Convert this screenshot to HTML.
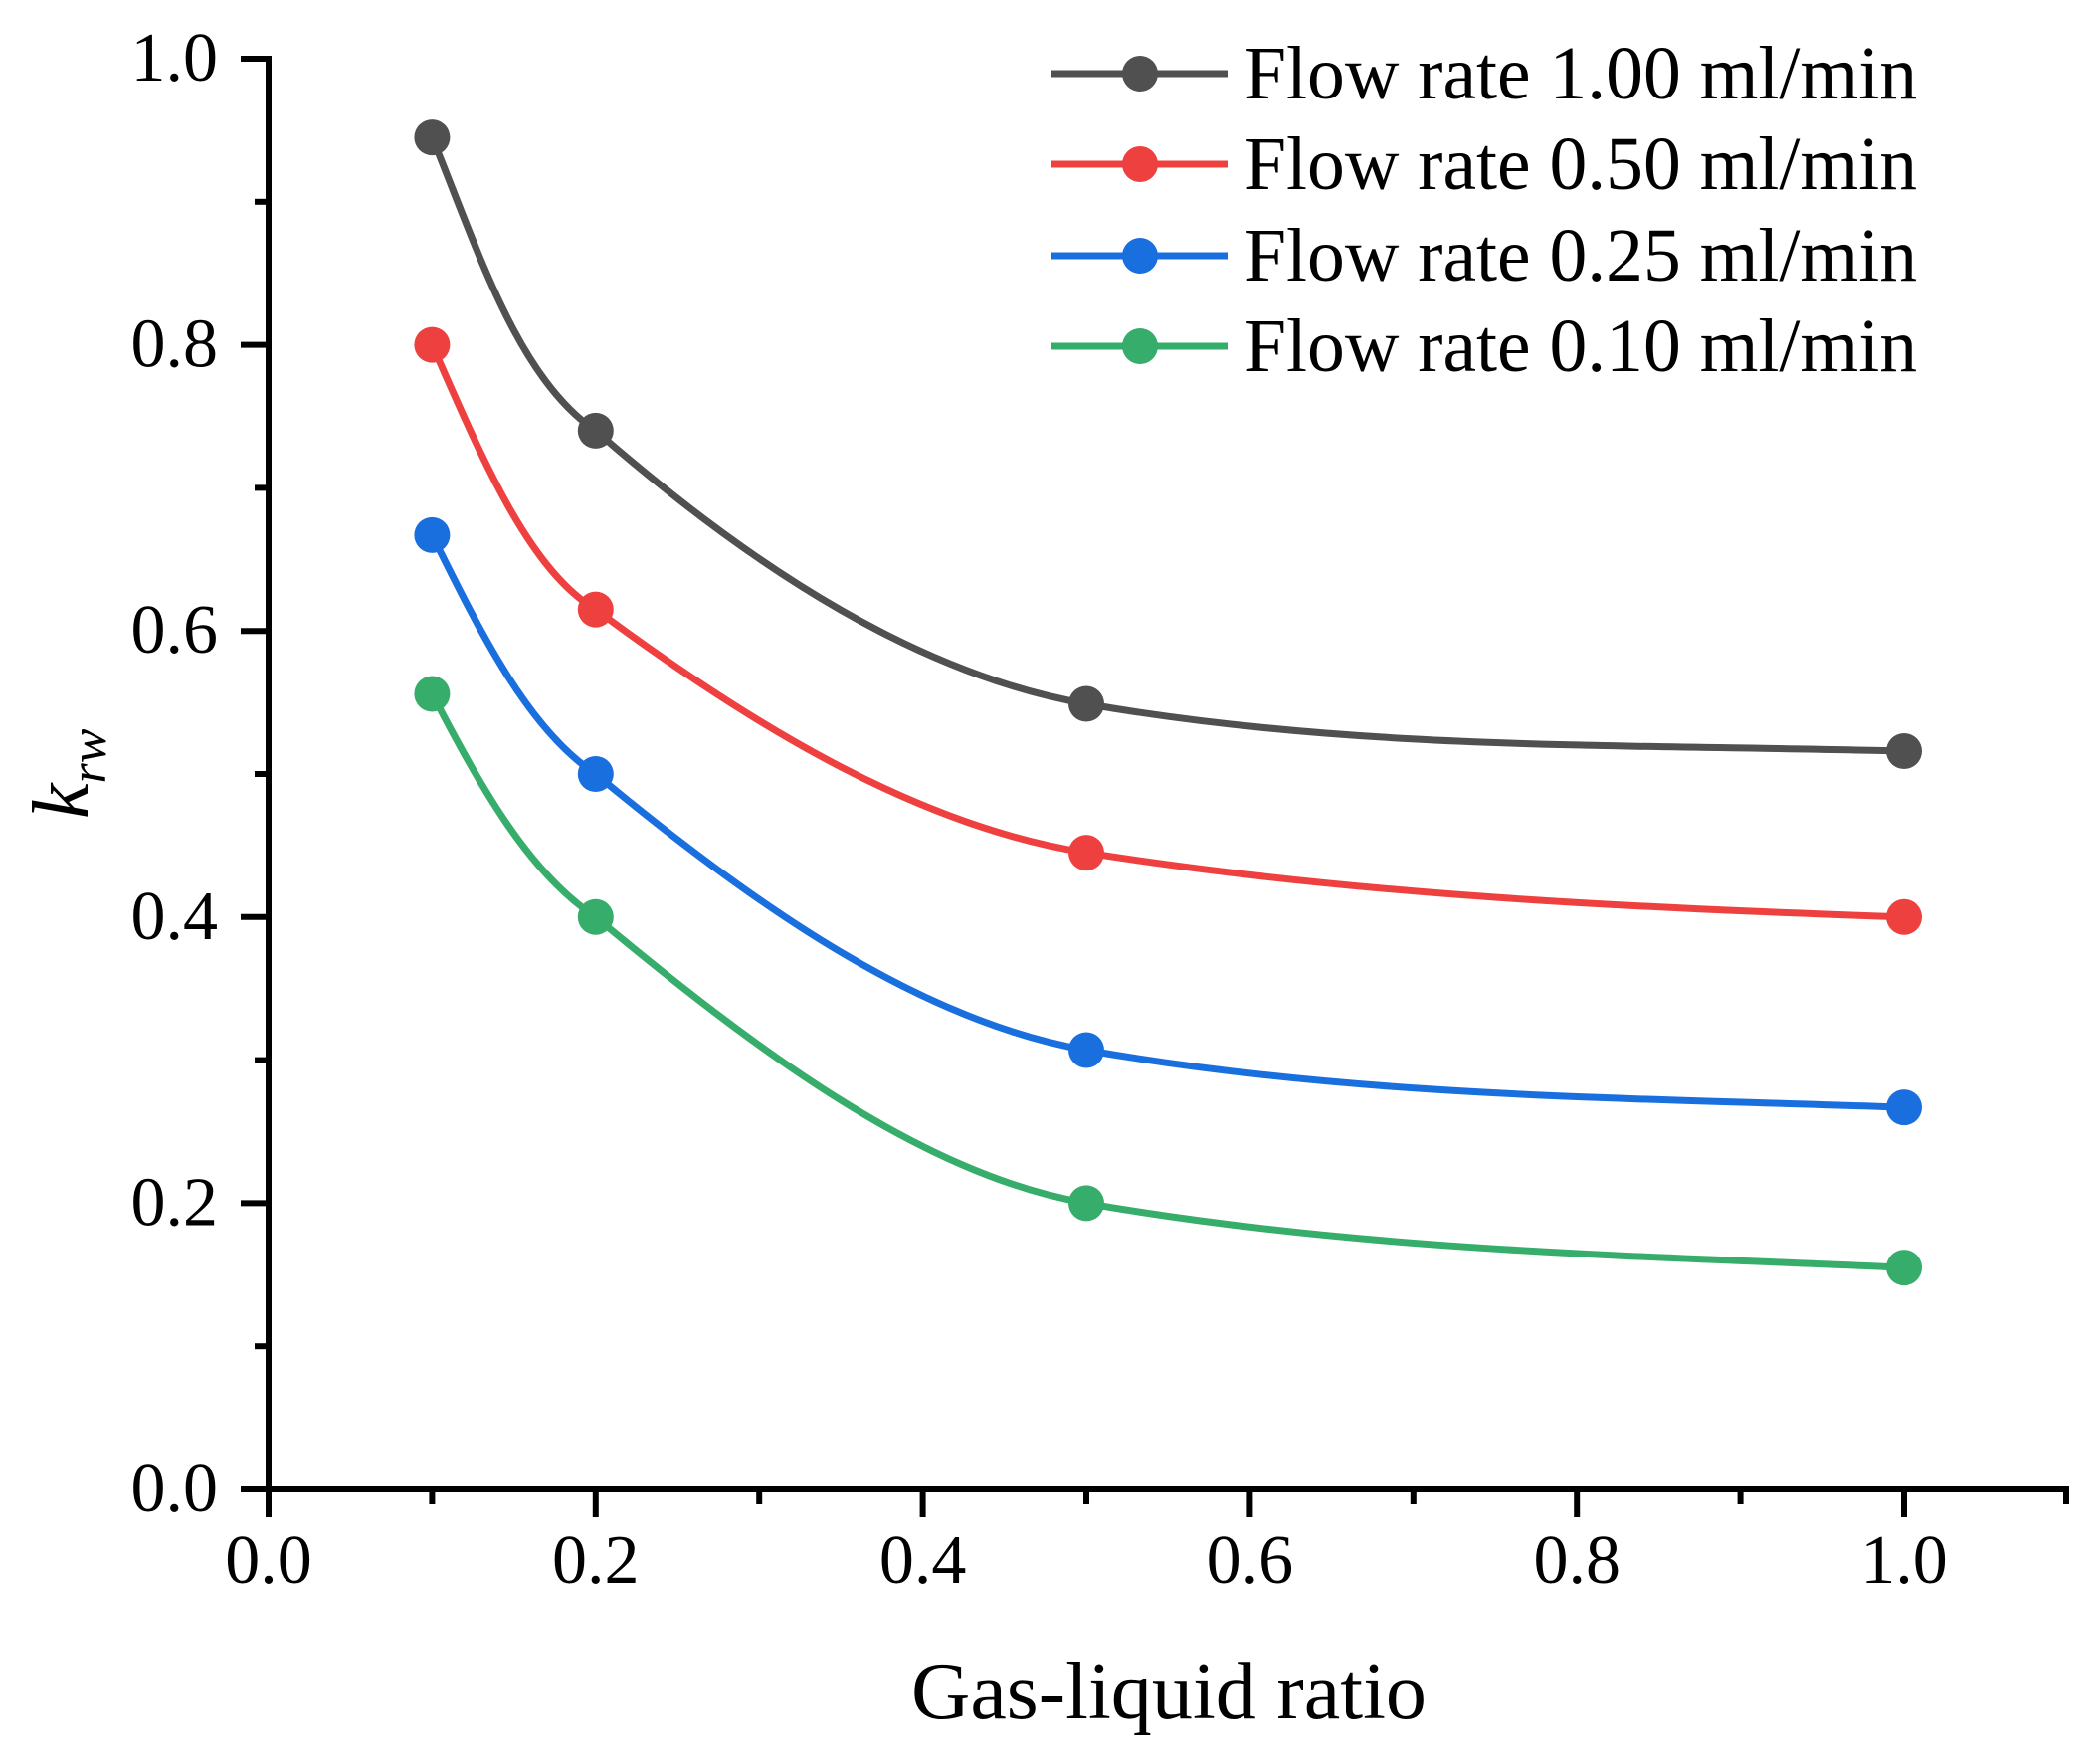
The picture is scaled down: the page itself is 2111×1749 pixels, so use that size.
<!DOCTYPE html>
<html><head><meta charset="utf-8"><style>
html,body{margin:0;padding:0;background:#fff;}
svg{display:block;}
text{font-family:"Liberation Serif","Times New Roman",serif;fill:#000;}
</style></head><body>
<svg width="2111" height="1749" viewBox="0 0 2111 1749" xmlns="http://www.w3.org/2000/svg">
<rect width="2111" height="1749" fill="#fff"/>
<g stroke="#000" stroke-width="6" fill="none">
<line x1="270" y1="56" x2="270" y2="1500"/>
<line x1="242" y1="1497" x2="2080" y2="1497"/>
<line x1="242" y1="1497" x2="270" y2="1497"/>
<line x1="242" y1="1209.4" x2="270" y2="1209.4"/>
<line x1="242" y1="921.8" x2="270" y2="921.8"/>
<line x1="242" y1="634.2" x2="270" y2="634.2"/>
<line x1="242" y1="346.6" x2="270" y2="346.6"/>
<line x1="242" y1="59" x2="270" y2="59"/>
<line x1="256" y1="1353.2" x2="270" y2="1353.2"/>
<line x1="256" y1="1065.6" x2="270" y2="1065.6"/>
<line x1="256" y1="778" x2="270" y2="778"/>
<line x1="256" y1="490.4" x2="270" y2="490.4"/>
<line x1="256" y1="202.8" x2="270" y2="202.8"/>
<line x1="270" y1="1497" x2="270" y2="1525"/>
<line x1="598.8" y1="1497" x2="598.8" y2="1525"/>
<line x1="927.6" y1="1497" x2="927.6" y2="1525"/>
<line x1="1256.4" y1="1497" x2="1256.4" y2="1525"/>
<line x1="1585.2" y1="1497" x2="1585.2" y2="1525"/>
<line x1="1914" y1="1497" x2="1914" y2="1525"/>
<line x1="434.4" y1="1497" x2="434.4" y2="1512"/>
<line x1="763.2" y1="1497" x2="763.2" y2="1512"/>
<line x1="1092" y1="1497" x2="1092" y2="1512"/>
<line x1="1420.8" y1="1497" x2="1420.8" y2="1512"/>
<line x1="1749.6" y1="1497" x2="1749.6" y2="1512"/>
<line x1="2077" y1="1497" x2="2077" y2="1512"/>
</g>
<g font-size="70" text-anchor="end">
<text x="219" y="1519">0.0</text>
<text x="219" y="1231.4">0.2</text>
<text x="219" y="943.8">0.4</text>
<text x="219" y="656.2">0.6</text>
<text x="219" y="368.6">0.8</text>
<text x="219" y="81">1.0</text>
</g>
<g font-size="70" text-anchor="middle">
<text x="270" y="1591">0.0</text>
<text x="598.8" y="1591">0.2</text>
<text x="927.6" y="1591">0.4</text>
<text x="1256.4" y="1591">0.6</text>
<text x="1585.2" y="1591">0.8</text>
<text x="1914" y="1591">1.0</text>
</g>
<text x="1175" y="1727" font-size="80" text-anchor="middle" textLength="518" lengthAdjust="spacingAndGlyphs">Gas-liquid ratio</text>
<text transform="translate(88,823) rotate(-90)" font-size="80" font-style="italic">k<tspan dy="18" font-size="52">rw</tspan></text>
<g fill="none" stroke-width="7">
<path stroke="#505050" d="M434.4,138.1 C480,250 520,380 598.8,432.9 C763.2,576.7 927.6,678.7 1092,707.5 C1366,755.4 1640,747.8 1914,755"/>
<path stroke="#ef4040" d="M434.4,346.6 C482,454.4 530,571.9 598.8,612.6 C763.2,734.8 927.6,831.2 1092,857.1 C1366,900.2 1640,912.2 1914,921.8"/>
<path stroke="#1a6fdf" d="M434.4,537.9 C482,633.8 530,732.5 598.8,778 C763.2,914.6 927.6,1026.7 1092,1055.5 C1366,1103.4 1640,1103.5 1914,1113.1"/>
<path stroke="#37ad6b" d="M434.4,697.5 C482,788.6 530,876.3 598.8,921.8 C763.2,1058.4 927.6,1180.6 1092,1209.4 C1366,1257.3 1640,1262.1 1914,1274.1"/>
</g>
<g fill="#505050"><circle cx="434.4" cy="138.1" r="18"/><circle cx="598.8" cy="432.9" r="18"/><circle cx="1092" cy="707.5" r="18"/><circle cx="1914" cy="755" r="18"/></g>
<g fill="#ef4040"><circle cx="434.4" cy="346.6" r="18"/><circle cx="598.8" cy="612.6" r="18"/><circle cx="1092" cy="857.1" r="18"/><circle cx="1914" cy="921.8" r="18"/></g>
<g fill="#1a6fdf"><circle cx="434.4" cy="537.9" r="18"/><circle cx="598.8" cy="778" r="18"/><circle cx="1092" cy="1055.5" r="18"/><circle cx="1914" cy="1113.1" r="18"/></g>
<g fill="#37ad6b"><circle cx="434.4" cy="697.5" r="18"/><circle cx="598.8" cy="921.8" r="18"/><circle cx="1092" cy="1209.4" r="18"/><circle cx="1914" cy="1274.1" r="18"/></g>
<g stroke-width="7">
<line x1="1057" y1="74" x2="1234" y2="74" stroke="#505050"/>
<line x1="1057" y1="165" x2="1234" y2="165" stroke="#ef4040"/>
<line x1="1057" y1="257" x2="1234" y2="257" stroke="#1a6fdf"/>
<line x1="1057" y1="348" x2="1234" y2="348" stroke="#37ad6b"/>
</g>
<circle cx="1146" cy="74" r="18" fill="#505050"/>
<circle cx="1146" cy="165" r="18" fill="#ef4040"/>
<circle cx="1146" cy="257" r="18" fill="#1a6fdf"/>
<circle cx="1146" cy="348" r="18" fill="#37ad6b"/>
<g font-size="76">
<text x="1251" y="99" textLength="676" lengthAdjust="spacingAndGlyphs">Flow rate 1.00 ml/min</text>
<text x="1251" y="190" textLength="676" lengthAdjust="spacingAndGlyphs">Flow rate 0.50 ml/min</text>
<text x="1251" y="282" textLength="676" lengthAdjust="spacingAndGlyphs">Flow rate 0.25 ml/min</text>
<text x="1251" y="373" textLength="676" lengthAdjust="spacingAndGlyphs">Flow rate 0.10 ml/min</text>
</g>
</svg>
</body></html>
